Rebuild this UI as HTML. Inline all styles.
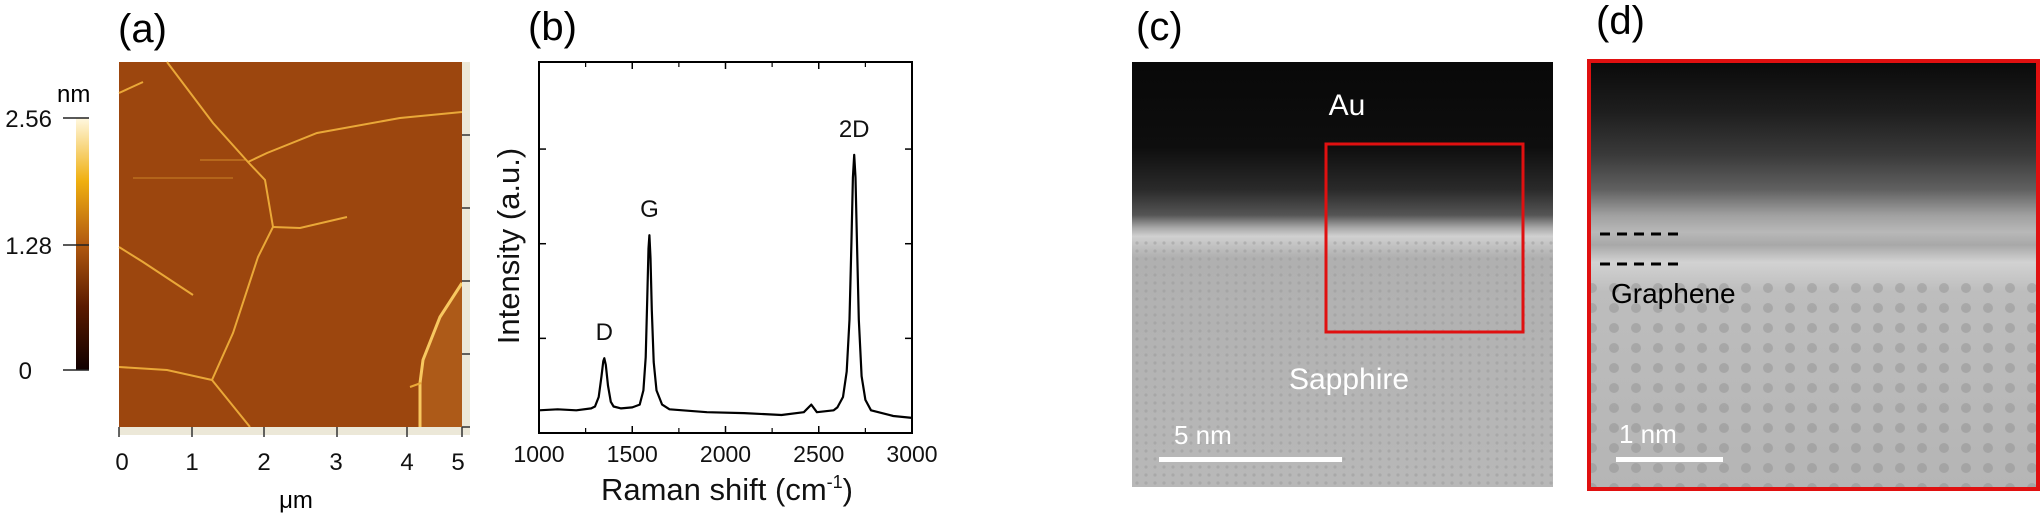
<!DOCTYPE html>
<html><head><meta charset="utf-8">
<style>
html,body{margin:0;padding:0;background:#fff;}
body{width:2041px;height:516px;position:relative;overflow:hidden;font-family:"Liberation Sans",Arial,sans-serif;}
.abs{position:absolute;}
</style></head>
<body>
<svg class="abs" style="left:0;top:0" width="2041" height="516" viewBox="0 0 2041 516">
<defs>
<linearGradient id="cbar" x1="0" y1="1" x2="0" y2="0">
<stop offset="0" stop-color="#100000"/><stop offset="0.25" stop-color="#5a1a00"/><stop offset="0.5" stop-color="#b25a10"/><stop offset="0.75" stop-color="#f0b010"/><stop offset="1" stop-color="#fff8e0"/>
</linearGradient>
<linearGradient id="temc" x1="0" y1="0" x2="0" y2="1">
<stop offset="0" stop-color="#080808"/><stop offset="0.2" stop-color="#0e0e0e"/><stop offset="0.3" stop-color="#2a2a2a"/><stop offset="0.36" stop-color="#555"/><stop offset="0.39" stop-color="#a8a8a8"/><stop offset="0.41" stop-color="#d0d0d0"/><stop offset="0.46" stop-color="#b0b0b0"/><stop offset="1" stop-color="#b8b8b8"/>
</linearGradient>
<linearGradient id="temd" x1="0" y1="0" x2="0" y2="1">
<stop offset="0" stop-color="#0a0a0a"/><stop offset="0.12" stop-color="#1e1e1e"/><stop offset="0.22" stop-color="#3a3a3a"/><stop offset="0.3" stop-color="#606060"/><stop offset="0.36" stop-color="#a0a0a0"/><stop offset="0.4" stop-color="#b8b8b8"/><stop offset="0.43" stop-color="#a8a8a8"/><stop offset="0.47" stop-color="#d2d2d2"/><stop offset="0.54" stop-color="#bdbdbd"/><stop offset="1" stop-color="#b5b5b5"/>
</linearGradient>
<pattern id="dots" width="9" height="8" patternUnits="userSpaceOnUse"><circle cx="3" cy="3" r="1.6" fill="#999" opacity="0.5"/></pattern>
<pattern id="dotsd" width="22" height="20" patternUnits="userSpaceOnUse"><circle cx="8" cy="8" r="5" fill="#8f8f8f" opacity="0.45"/></pattern>
</defs>

<!-- Panel a -->
<text x="118" y="42" font-size="40">(a)</text>
<rect x="119" y="62" width="343" height="365" fill="#9c460e"/>
<path d="M462,283 L440,317 L423,360 L420,383 L420,427 L462,427 Z" fill="#ad5a18"/>
<g fill="none" stroke="#eaa838" stroke-width="2">
<polyline points="167,62 213,123 248,162 265,180 273,227 258,257 233,333 212,380 250,427"/>
<polyline points="248,162 267,153 317,133 400,118 462,112"/>
<polyline points="273,227 300,228 347,217"/>
<polyline points="119,247 143,262 193,295"/>
<polyline points="119,367 167,370 212,380"/>
<polyline points="119,93 143,82"/>
<polyline points="462,283 440,317 423,360 420,383 420,427" stroke="#f8c860" stroke-width="3"/>
<polyline points="410,387 421,383"/>
<polyline points="200,160 247,160" stroke-width="1" opacity="0.7"/>
<polyline points="133,178 233,178" stroke-width="1" opacity="0.6"/>
</g>
<rect x="119" y="427" width="343" height="8" fill="#ece8d8"/>
<rect x="462" y="62" width="8" height="373" fill="#ece8d8"/>
<g stroke="#333" stroke-width="1.5">
<line x1="119" y1="427" x2="119" y2="437"/><line x1="192" y1="427" x2="192" y2="437"/><line x1="264" y1="427" x2="264" y2="437"/><line x1="337" y1="427" x2="337" y2="437"/><line x1="407" y1="427" x2="407" y2="437"/><line x1="462" y1="427" x2="462" y2="437"/>
<line x1="462" y1="135" x2="470" y2="135"/><line x1="462" y1="208" x2="470" y2="208"/><line x1="462" y1="281" x2="470" y2="281"/><line x1="462" y1="354" x2="470" y2="354"/><line x1="462" y1="427" x2="470" y2="427"/>
</g>
<g font-size="24" text-anchor="middle" fill="#111">
<text x="122" y="470">0</text><text x="192" y="470">1</text><text x="264" y="470">2</text><text x="336" y="470">3</text><text x="407" y="470">4</text><text x="458" y="470">5</text>
</g>
<text x="296" y="508" font-size="24" text-anchor="middle">μm</text>
<rect x="76" y="118" width="13" height="252" fill="url(#cbar)"/>
<g stroke="#222" stroke-width="1.5"><line x1="63" y1="118" x2="89" y2="118"/><line x1="63" y1="245" x2="89" y2="245"/><line x1="63" y1="370" x2="89" y2="370"/></g>
<g font-size="24" text-anchor="end" fill="#111">
<text x="52" y="127">2.56</text><text x="52" y="254">1.28</text><text x="32" y="379">0</text>
</g>
<text x="57" y="102" font-size="24">nm</text>

<!-- Panel b -->
<text x="528" y="40" font-size="40">(b)</text>
<g id="chart-b"></g>

<!-- Panel c -->
<text x="1136" y="40" font-size="40">(c)</text>
<rect x="1132" y="62" width="421" height="425" fill="url(#temc)"/>
<rect x="1132" y="240" width="421" height="247" fill="url(#dots)"/>
<rect x="1326" y="144" width="197" height="188" fill="none" stroke="#e01010" stroke-width="3"/>
<text x="1347" y="115" font-size="30" fill="#fff" text-anchor="middle">Au</text>
<text x="1349" y="389" font-size="30" fill="#fff" text-anchor="middle">Sapphire</text>
<rect x="1159" y="457" width="183" height="5" fill="#fff"/>
<text x="1174" y="444" font-size="26" fill="#fff">5 nm</text>

<!-- Panel d -->
<text x="1596" y="34" font-size="40">(d)</text>
<rect x="1589" y="61" width="449" height="428" fill="url(#temd)"/>
<rect x="1589" y="280" width="449" height="209" fill="url(#dotsd)"/>
<rect x="1589" y="61" width="449" height="428" fill="none" stroke="#e01010" stroke-width="4"/>
<g stroke="#000" stroke-width="3" stroke-dasharray="10,7">
<line x1="1600" y1="234" x2="1684" y2="234"/><line x1="1600" y1="264" x2="1684" y2="264"/>
</g>
<text x="1611" y="303" font-size="28" fill="#000">Graphene</text>
<rect x="1616" y="457" width="107" height="5" fill="#fff"/>
<text x="1619" y="443" font-size="26" fill="#fff">1 nm</text>
</svg>

<script>
const ramanShift = [1000,1100,1200,1280,1300,1320,1335,1345,1350,1358,1370,1385,1400,1440,1500,1540,1560,1572,1580,1587,1592,1598,1605,1615,1630,1660,1700,1900,2100,2300,2420,2460,2490,2580,2600,2630,2650,2665,2675,2683,2690,2697,2705,2715,2730,2750,2780,2900,3000];
const intensity = [0.24,0.25,0.24,0.26,0.28,0.38,0.6,0.76,0.79,0.72,0.5,0.33,0.28,0.26,0.27,0.3,0.45,0.8,1.4,1.95,2.09,1.85,1.3,0.75,0.45,0.3,0.25,0.22,0.21,0.19,0.22,0.30,0.22,0.24,0.27,0.38,0.65,1.2,2.0,2.7,2.94,2.7,2.0,1.2,0.6,0.35,0.24,0.18,0.16];
const xTicks = [1000,1500,2000,2500,3000];
const xMinorTicks = [1250,1750,2250,2750];
const yTicks = [1,2,3];
const peakNames = ["D","G","2D"];
const peakPos = [1350,1592,2690];
const peakVal = [0.79,2.09,2.94];

const NS="http://www.w3.org/2000/svg";
const L=539,R=912,T=62,B=433,xMin=1000,xMax=3000,yMin=0,yMax=3.92;
const sx=v=>L+(v-xMin)/(xMax-xMin)*(R-L);
const sy=v=>B-(v-yMin)/(yMax-yMin)*(B-T);
const g=document.getElementById('chart-b');
function mk(tag,attrs){const e=document.createElementNS(NS,tag);for(const k in attrs)e.setAttribute(k,attrs[k]);g.appendChild(e);return e;}

const frame=mk('rect',{x:L,y:T,width:R-L,height:B-T,fill:'none',stroke:'#000','stroke-width':2});



xTicks.forEach(t=>{
  const x=sx(t);
  const a=mk('line',{x1:x,y1:B,x2:x,y2:B-7,stroke:'#000','stroke-width':1.5});
  
  
  mk('line',{x1:x,y1:T,x2:x,y2:T+7,stroke:'#000','stroke-width':1.5});
  const tx=mk('text',{x:x,y:462,'font-size':23,'text-anchor':'middle',fill:'#111'});
  tx.textContent=t;
  
  
});
xMinorTicks.forEach(t=>{
  const x=sx(t);
  const a=mk('line',{x1:x,y1:B,x2:x,y2:B-5,stroke:'#000','stroke-width':1.2});
  
  
  mk('line',{x1:x,y1:T,x2:x,y2:T+5,stroke:'#000','stroke-width':1.2});
});
yTicks.forEach(t=>{
  const y=sy(t);
  const a=mk('line',{x1:L,y1:y,x2:L+7,y2:y,stroke:'#000','stroke-width':1.5});
  
  
  mk('line',{x1:R,y1:y,x2:R-7,y2:y,stroke:'#000','stroke-width':1.5});
});

const d=ramanShift.map((v,i)=>(i?'L':'M')+sx(v).toFixed(1)+','+sy(intensity[i]).toFixed(1)).join(' ');
const line=mk('path',{d:d,fill:'none',stroke:'#000','stroke-width':2.2,'stroke-linejoin':'round'});



peakNames.forEach((n,i)=>{
  const t=mk('text',{x:sx(peakPos[i]),y:sy(peakVal[i])-18,'font-size':24,'text-anchor':'middle',fill:'#111'});
  t.textContent=n;
  
  
});

const xt=mk('text',{x:727,y:500,'font-size':31,'text-anchor':'middle',fill:'#111'});
xt.innerHTML='Raman shift (cm<tspan dy="-12" font-size="18">-1</tspan><tspan dy="12">)</tspan>';


const yt=mk('text',{x:0,y:0,'font-size':31,'text-anchor':'middle',fill:'#111',transform:'translate(519,246) rotate(-90)'});
yt.textContent='Intensity (a.u.)';


</script>
</body></html>
